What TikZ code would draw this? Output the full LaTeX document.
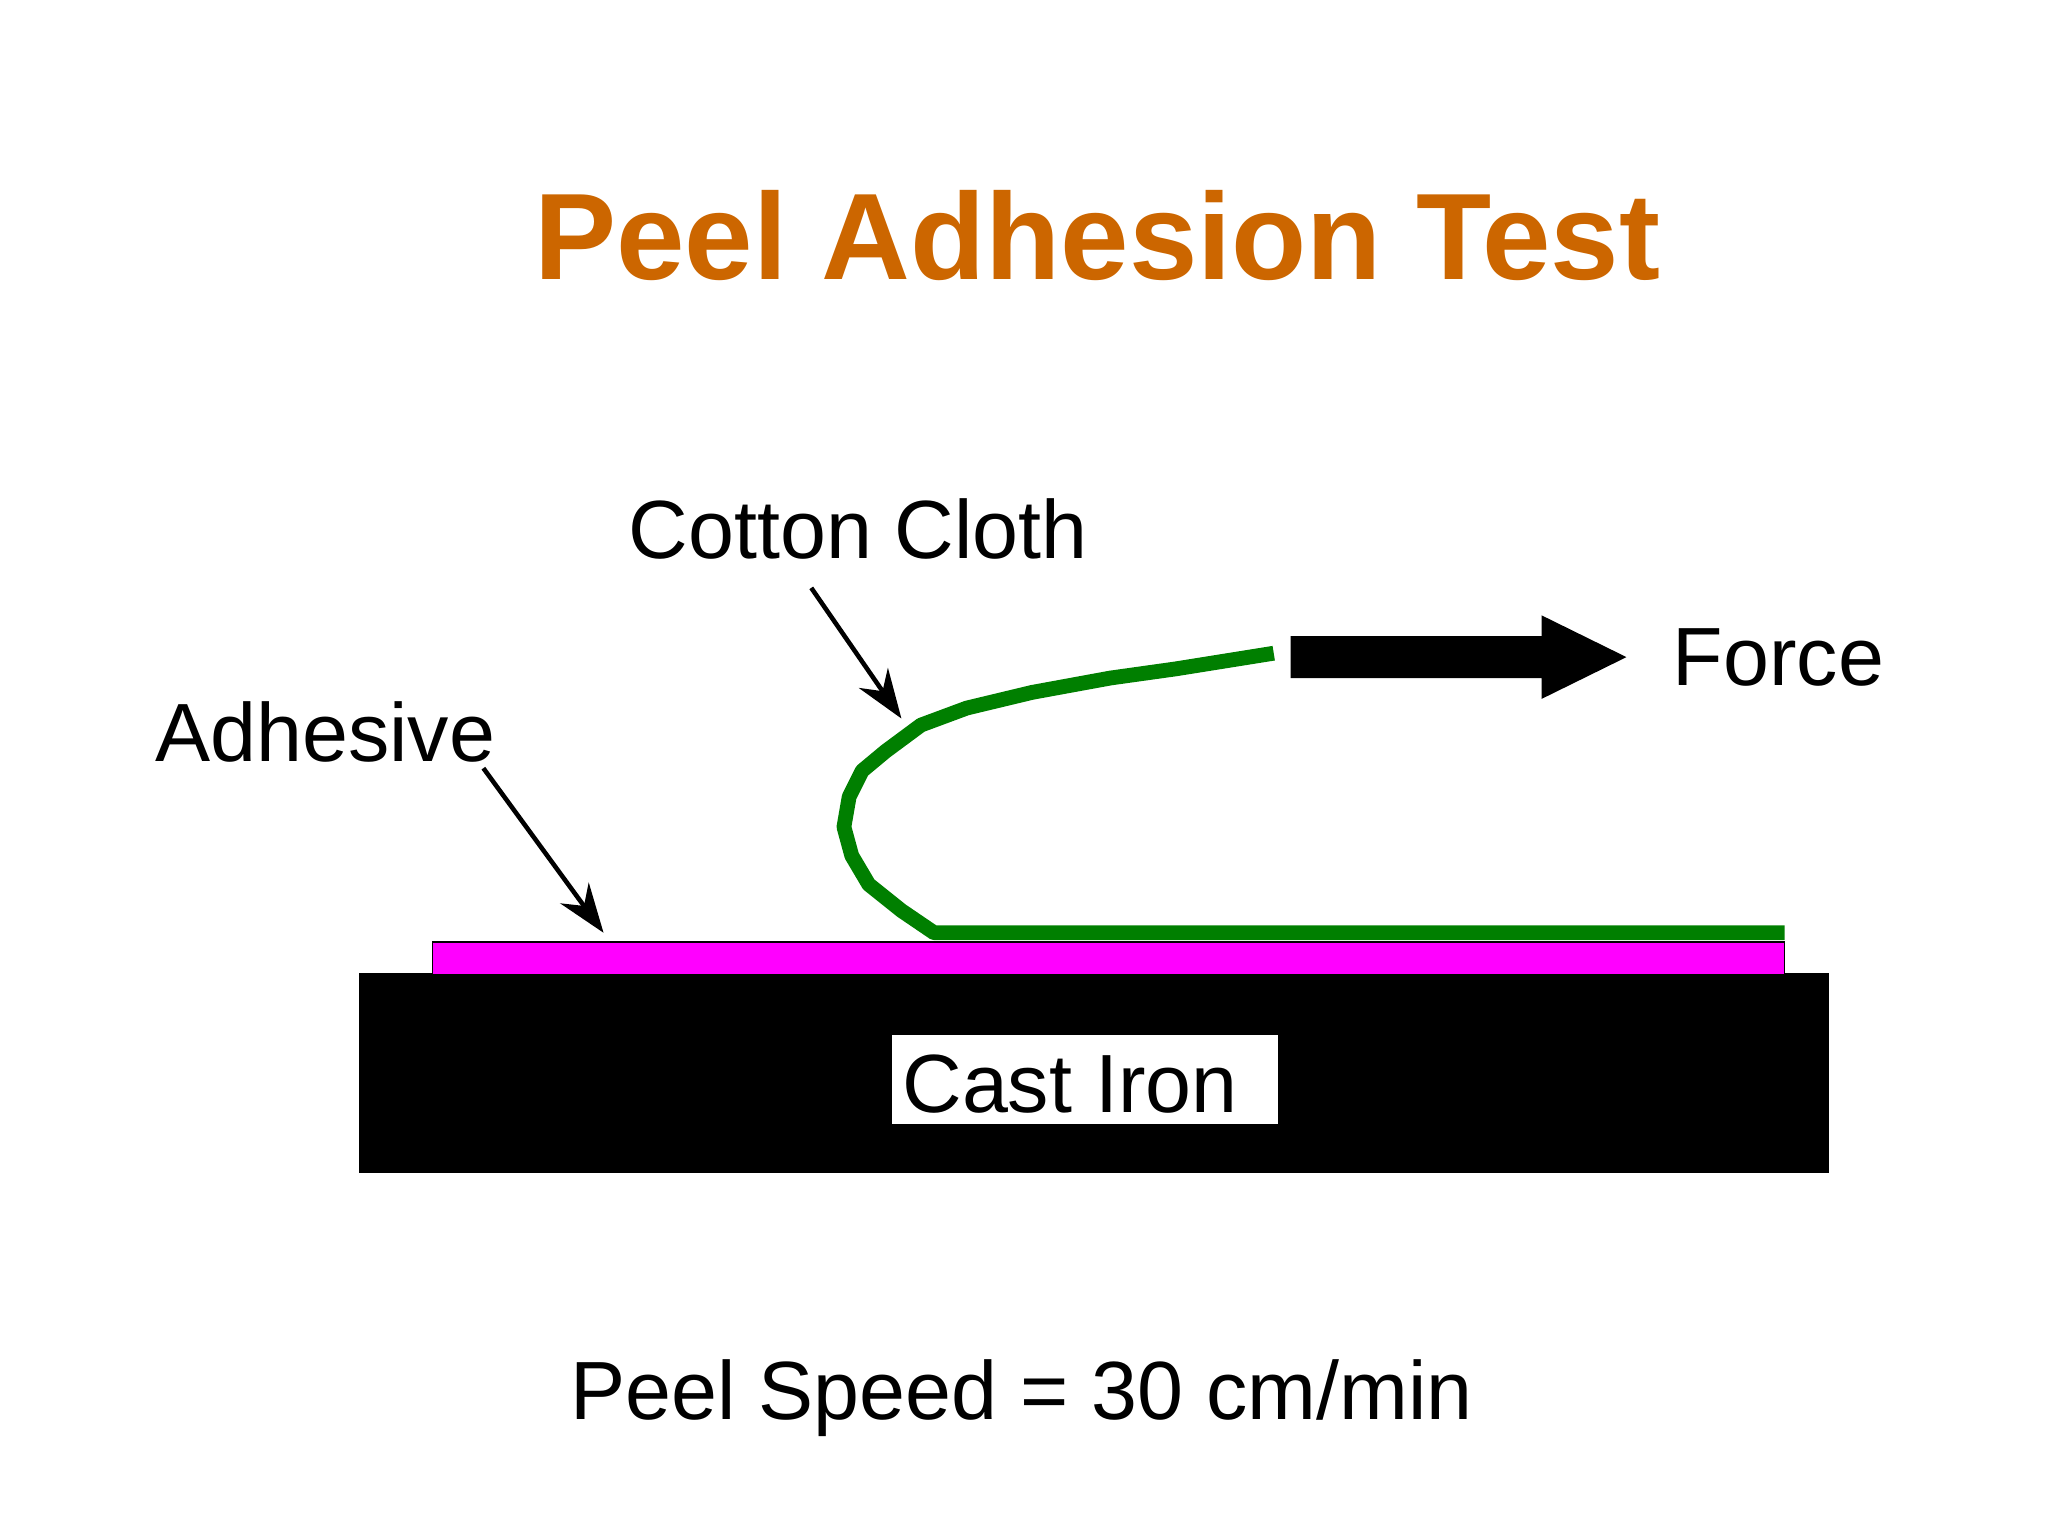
\documentclass[tikz,border=0pt]{standalone}
\usepackage{fontspec}
\usetikzlibrary{arrows.meta}
\setmainfont{Liberation Sans}
\definecolor{titleor}{HTML}{CC6600}
\definecolor{cloth}{HTML}{007F00}
\definecolor{adhcol}{HTML}{FF00FF}
\begin{document}
\begin{tikzpicture}[x=0.013064cm,y=-0.013064cm,
  lbl/.style={font=\fontsize{23.5}{28}\selectfont,inner sep=0},
  ptr/.style={draw,line width=1.3pt,-{Stealth[length=14pt,width=10pt]}}]
\useasboundingbox (0,0) rectangle (1567.7,1175.8);
\node[font=\fontsize{35}{42}\selectfont\bfseries,text=titleor,inner sep=0] (title) at (840,180) {Peel Adhesion Test};
\fill (275,745) rectangle (1400,898);
\fill[white] (683,792) rectangle (978,860);
\node[lbl] (iron) at (819,830) {Cast Iron};
\node[draw=black,fill=adhcol,line width=0.5pt,minimum width=1035*0.013064cm,minimum height=25*0.013064cm,inner sep=0] (adh) at (848.5,733.5) {};
\draw[cloth,line width=4.2pt,line join=round] (1366,714) -- (715,714) -- (690,697) -- (665,677) -- (652,655) -- (646,633) -- (650,610) -- (660,590) -- (678,575) -- (705,555) -- (740,542) -- (790,530) -- (850,519) -- (900,512) -- (975,500);
\fill (988,487) -- (1180,487) -- (1180,471) -- (1245,503) -- (1180,535) -- (1180,519) -- (988,519) -- cycle;
\node[lbl,anchor=west] (force) at (1280,503) {Force};
\node[lbl] (cotton) at (657,405) {Cotton Cloth};
\coordinate (ct) at (690,550);
\draw[ptr] (621,450) -- (ct);
\node[lbl] (adhl) at (249,560) {Adhesive};
\coordinate (at) at (462,714);
\draw[ptr] (370,588) -- (at);
\node[lbl] (speed) at (782,1070) {Peel Speed = 30 cm/min};
\end{tikzpicture}
\end{document}
